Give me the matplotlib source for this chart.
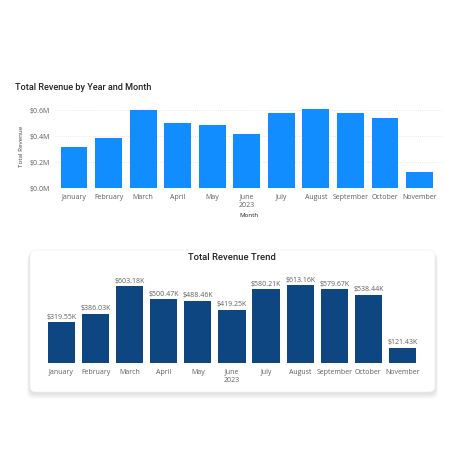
import matplotlib
matplotlib.use("Agg")
import matplotlib.pyplot as plt
from matplotlib.patches import FancyBboxPatch
from matplotlib.ticker import FuncFormatter

months = ["January", "February", "March", "April", "May", "June", "July",
          "August", "September", "October", "November"]
revenue_k = [319.55, 386.03, 603.18, 500.47, 488.46, 419.25, 580.21,
             613.16, 579.67, 538.44, 121.43]
year_label = "2023"
year_month_idx = 5

top_title = "Total Revenue by Year and Month"
bottom_title = "Total Revenue Trend"

light_blue = "#118DFF"
dark_blue = "#0D4680"
tick_grey = "#605E5C"

plt.rcParams['font.family'] = ['Open Sans', 'DejaVu Sans']

W = H = 474
fig = plt.figure(figsize=(4.74, 4.74), dpi=100)
fig.patch.set_facecolor("white")


def px_axes(left, top, right, bottom):
    return fig.add_axes([left / W, 1 - bottom / H, (right - left) / W, (bottom - top) / H])


labels = [m + ("\n" + year_label if i == year_month_idx else "") for i, m in enumerate(months)]
x = list(range(len(months)))

# ---- top chart
ax1 = px_axes(55, 104, 442, 188)
ax1.bar(x, [v / 1000 for v in revenue_k], width=0.78, color=light_blue, zorder=3)
ax1.set_xlim(-0.55, 10.65)
ax1.set_ylim(0, 0.65)
ax1.set_yticks([0, 0.2, 0.4, 0.6])
ax1.yaxis.set_major_formatter(FuncFormatter(lambda v, p: "${:.1f}M".format(v)))
ax1.set_xticks(x)
ax1.set_xticklabels(labels)
ax1.tick_params(axis="both", length=0, labelsize=5, colors=tick_grey, pad=4)
ax1.grid(axis="y", color="#E1E1E1", linestyle=(0, (1, 1.5)), linewidth=0.6, zorder=0)
for s in ax1.spines.values():
    s.set_visible(False)
ax1.set_ylabel("Total Revenue", fontsize=4.5, color="#404040", labelpad=4)
ax1.set_xlabel("Month", fontsize=4.5, color="#252423", labelpad=3)
fig.text(15 / W, 1 - 87 / H, top_title, fontsize=6.6, color="#252423", weight="medium",
         ha="left", va="center", family=["Roboto", "DejaVu Sans"])

# ---- bottom card with soft shadow
for i in range(6):
    g = 6 - i
    sh = FancyBboxPatch((30 / W - g * 0.5 / W, 1 - (393 + g) / H), (405 + g) / W, (142 + g * 0.6) / H,
                        boxstyle="round,pad=0,rounding_size=0.014", transform=fig.transFigure,
                        facecolor="#000000", edgecolor="none", alpha=0.018, zorder=-3)
    fig.patches.append(sh)
card = FancyBboxPatch((30 / W, 1 - 392 / H), 405 / W, 142 / H,
                      boxstyle="round,pad=0,rounding_size=0.012", transform=fig.transFigure,
                      facecolor="white", edgecolor="#F0F0F0", linewidth=0.5, zorder=-2)
fig.patches.append(card)

ax2 = px_axes(42.7, 274, 421.2, 363)
ax2.set_facecolor("none")
ax2.set_zorder(2)
bars = ax2.bar(x, revenue_k, width=0.8, color=dark_blue, zorder=3)
ax2.set_xlim(-0.55, 10.55)
ax2.set_ylim(0, 700)
ax2.set_yticks([])
ax2.set_xticks(x)
ax2.set_xticklabels(labels)
ax2.tick_params(axis="x", length=0, labelsize=5, colors=tick_grey, pad=4)
for s in ax2.spines.values():
    s.set_visible(False)
for b, v in zip(bars, revenue_k):
    ax2.text(b.get_x() + b.get_width() / 2, b.get_height() + 12, "${:.2f}K".format(v),
             ha="center", va="bottom", fontsize=5, color=tick_grey)
fig.text(232 / W, 1 - 258 / H, bottom_title, fontsize=6.8, color="#252423", weight="medium",
         ha="center", va="center", family=["Roboto", "DejaVu Sans"], zorder=5)

fig.savefig("out.png", dpi=100, facecolor="white")
